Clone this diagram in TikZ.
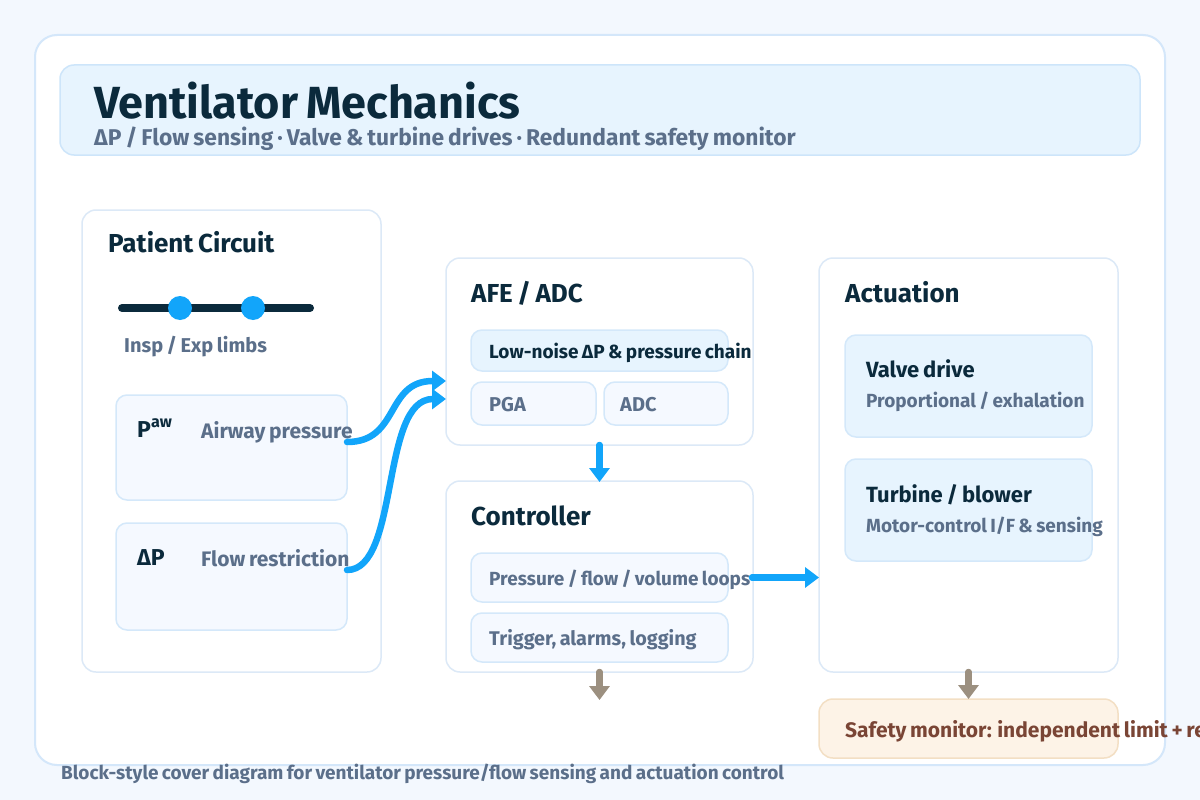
\documentclass[tikz,border=0pt]{standalone}
\usepackage{fontspec}
\setmainfont[WordSpace=0.75]{Fira Sans}
\usetikzlibrary{arrows.meta}
\definecolor{bgc}{HTML}{F3F8FE}
\definecolor{outerb}{HTML}{D4E7FA}
\definecolor{headf}{HTML}{E7F4FE}
\definecolor{headb}{HTML}{CDE5FA}
\definecolor{panelb}{HTML}{DCE9F7}
\definecolor{subf}{HTML}{F5F9FF}
\definecolor{subb}{HTML}{D4E8FA}
\definecolor{darkt}{HTML}{0B2A3C}
\definecolor{grayt}{HTML}{5B6F8A}
\definecolor{bluec}{HTML}{12A5FA}
\definecolor{arrg}{HTML}{9C9080}
\definecolor{safef}{HTML}{FDF3E7}
\definecolor{safeb}{HTML}{F3DFC4}
\definecolor{safet}{HTML}{7A4535}
\newcommand{\fsz}[1]{\bfseries\fontsize{#1}{#1}\selectfont}
\tikzset{
  box/.style={rectangle, rounded corners=#1, inner sep=0pt, outer sep=0pt},
  outercard/.style={box=22pt, draw=outerb, line width=2pt, fill=white},
  headband/.style={box=14pt, draw=headb, line width=1.5pt, fill=headf},
  panel/.style={box=14pt, draw=panelb, line width=1.5pt, fill=white},
  subbox/.style={box=11pt, draw=subb, line width=1.5pt, fill=subf},
  hibox/.style={box=11pt, draw=subb, line width=1.5pt, fill=headf},
  safebox/.style={box=14pt, draw=safeb, line width=1.5pt, fill=safef},
  ptitle/.style={anchor=base west, inner sep=0pt, text=darkt, font=\fsz{26}},
  gtext/.style={anchor=base west, inner sep=0pt, text=grayt, font=\fsz{19}},
  dtext/.style={anchor=base west, inner sep=0pt, text=darkt, font=\fsz{19}},
  bluearrow/.style={draw=bluec, line width=6.5pt, line cap=round, -{Triangle[length=14pt,width=20pt]}},
  grayarrow/.style={draw=arrg, line width=6.5pt, line cap=round, -{Triangle[length=14pt,width=20pt]}},
}
\begin{document}
\begin{tikzpicture}[x=1pt,y=-1pt]
\useasboundingbox (0,0) rectangle (1200,800);
\fill[bgc] (0,0) rectangle (1200,800);
% outer card
\node[outercard, minimum width=1130pt, minimum height=730pt] (card) at (600,400) {};
% header
\node[headband, minimum width=1080pt, minimum height=90pt] (head) at (600,110) {};
\node[anchor=base west, inner sep=0pt, text=darkt, font=\fsz{45}] (title) at (94,118) {Ventilator Mechanics};
\node[anchor=base west, inner sep=0pt, text=grayt, font=\fsz{22.8}] (subtitle) at (94,145) {ΔP / Flow sensing · Valve \& turbine drives · Redundant safety monitor};

% Patient circuit panel
\node[panel, minimum width=299pt, minimum height=462pt] (pc) at (231.5,441) {};
\node[ptitle] (pct) at (108,252) {Patient Circuit};
\draw[darkt, line width=8pt, line cap=round] (122,308) coordinate (limbA) -- (310,308) coordinate (limbB);
\fill[bluec] (180,308) circle (12pt);
\fill[bluec] (253,308) circle (12pt);
\node[gtext, font=\fsz{20}] (limbs) at (124,352) {Insp / Exp limbs};
\node[subbox, minimum width=231pt, minimum height=105pt] (paw) at (231.5,447.5) {};
\node[dtext, font=\fsz{23}] (pawsym) at (137,437) {P\textsuperscript{aw}};
\node[gtext, font=\fsz{21}] (pawtxt) at (201,438) {Airway pressure};
\node[subbox, minimum width=231pt, minimum height=107pt] (dp) at (231.5,576.5) {};
\node[dtext, font=\fsz{23}] (dpsym) at (137,565) {ΔP};
\node[gtext, font=\fsz{21}] (dptxt) at (201,566) {Flow restriction};

% AFE / ADC panel
\node[panel, minimum width=307pt, minimum height=187pt] (afe) at (599.5,351.5) {};
\node[ptitle] (afet) at (471,302) {AFE / ADC};
\node[hibox, minimum width=257pt, minimum height=41pt] (lownoise) at (599.5,350.5) {};
\node[dtext, font=\fsz{19}] (lnt) at (489,358) {Low-noise ΔP \& pressure chain};
\node[subbox, minimum width=125pt, minimum height=43pt] (pga) at (533.5,403.5) {};
\node[gtext, font=\fsz{20}] (pgat) at (489,411) {PGA};
\node[subbox, minimum width=124pt, minimum height=43pt] (adc) at (666,403.5) {};
\node[gtext, font=\fsz{20}] (adct) at (620,411) {ADC};

% Controller panel
\node[panel, minimum width=307pt, minimum height=191pt] (ctl) at (599.5,576.5) {};
\node[ptitle] (ctlt) at (471,525) {Controller};
\node[subbox, minimum width=257pt, minimum height=49pt] (loops) at (599.5,577.5) {};
\node[gtext] (loopst) at (489,585) {Pressure / flow / volume loops};
\node[subbox, minimum width=257pt, minimum height=49pt] (trig) at (599.5,637.5) {};
\node[gtext, font=\fsz{19.8}] (trigt) at (489,645) {Trigger, alarms, logging};

% Actuation panel
\node[panel, minimum width=299pt, minimum height=414pt] (act) at (968.5,465) {};
\node[ptitle] (actt) at (845,302) {Actuation};
\node[hibox, minimum width=247pt, minimum height=102pt] (valve) at (968.5,386) {};
\node[dtext, font=\fsz{22}] (valvet) at (866,377) {Valve drive};
\node[gtext] (valves) at (866,407) {Proportional / exhalation};
\node[hibox, minimum width=247pt, minimum height=102pt] (turb) at (968.5,510) {};
\node[dtext, font=\fsz{22}] (turbt) at (866,502) {Turbine / blower};
\node[gtext] (turbs) at (866,532) {Motor-control I/F \& sensing};

% Safety monitor
\node[safebox, minimum width=299pt, minimum height=59pt] (safe) at (968.5,728.5) {};
\node[anchor=base west, inner sep=0pt, text=safet, font=\fsz{21}] (safet) at (845,737) {Safety monitor: independent limit + relief};

% footer
\node[anchor=base west, inner sep=0pt, text=grayt, font=\fsz{19}] (foot) at (61,779) {Block-style cover diagram for ventilator pressure/flow sensing and actuation control};

% connectors
\coordinate (s1) at (347,442);
\coordinate (e1) at (446,381);
\coordinate (s2) at (347,570);
\coordinate (e2) at (446,399);
\draw[bluearrow] (s1) .. controls (400,442) and (385,381) .. (e1);
\draw[bluearrow] (s2) .. controls (400,570) and (380,399) .. (e2);
\draw[bluearrow] (afe.south) -- ([yshift=-1pt]ctl.north);
\draw[bluearrow] (loops.east) ++(24,0) coordinate (r1) -- (act.west |- r1);
\draw[grayarrow] (ctl.south) -- ++(0,28) coordinate (g1);
\draw[grayarrow] (act.south) -- (safe.north);
\end{tikzpicture}
\end{document}
